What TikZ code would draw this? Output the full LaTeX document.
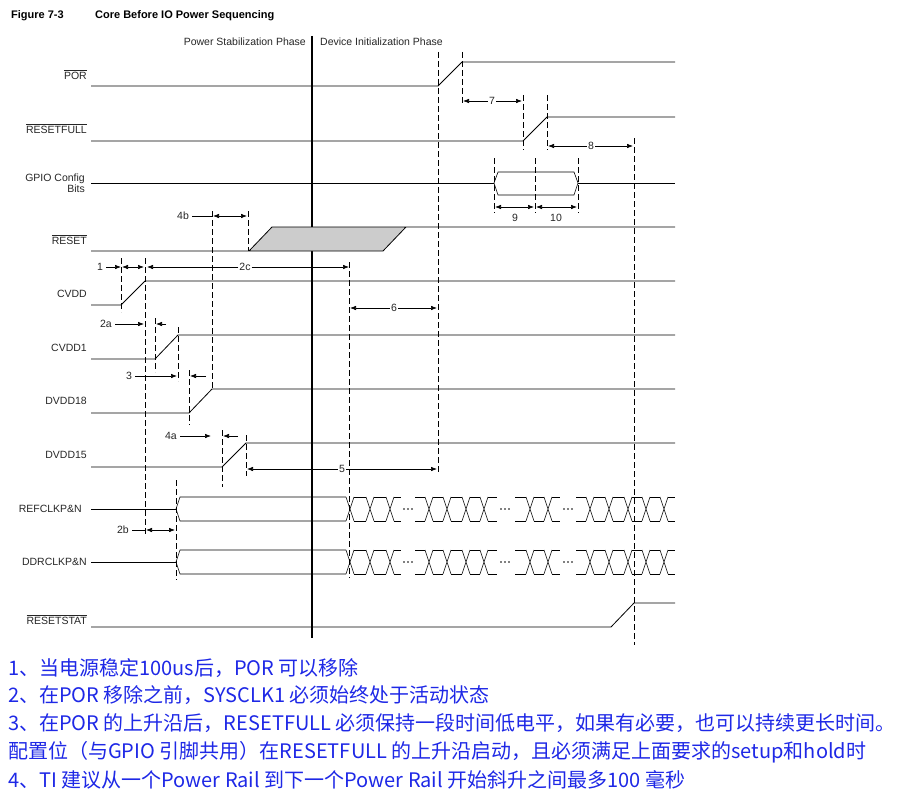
\documentclass[tikz,border=0pt]{standalone}
\usepackage{fontspec}
\setmainfont{Liberation Sans}
\newfontfamily\cjk{Noto Sans CJK SC}
\usetikzlibrary{arrows.meta}
\definecolor{noteblue}{RGB}{30,40,230}
\newcommand{\ovl}[1]{\leavevmode\vbox{\hrule height 0.6pt\kern1.2pt\hbox{#1}}}
\tikzset{
 sig/.style={line width=0.8pt},
 dsh/.style={line width=0.6pt,dash pattern=on 6pt off 3pt},
 arr/.style={line width=0.6pt,-{Latex[length=6pt,width=4.5pt]}},
 darr/.style={line width=0.6pt,{Latex[length=6pt,width=4.5pt]}-{Latex[length=6pt,width=4.5pt]}},
 lab/.style={font=\fontsize{10.5}{11}\selectfont,text=black!85},
 nm/.style={lab,anchor=east,inner sep=0pt},
 note/.style={font=\cjk\fontsize{20}{21}\selectfont,text=noteblue,anchor=west,inner sep=0pt},
}
\newcommand{\xcross}[2]{\draw[line width=0.6pt] (#1-4,#2-12)--(#1+4,#2+12) (#1-4,#2+12)--(#1+4,#2-12);}
\newcommand{\busgroup}[4]{%
 \draw[line width=0.6pt] (#1,#3-12)--(#2,#3-12) (#1,#3+12)--(#2,#3+12);
 \foreach \c in {#4} {\fill[white] (\c-4,#3-13) rectangle (\c+4,#3+13); \xcross{\c}{#3}}
}
\newcommand{\busrow}[1]{%
 \draw[line width=0.8pt] (91,#1)--(176,#1);
 \draw[line width=0.6pt] (176,#1)--(180,#1-12)--(346,#1-12) (176,#1)--(180,#1+12)--(346,#1+12);
 \busgroup{346}{401}{#1}{350,370,390}
 \busgroup{415}{497}{#1}{429,447,466,484}
 \busgroup{515}{560}{#1}{530,548}
 \busgroup{576}{675}{#1}{590,609,628,646,664}
 \foreach \d in {404,408,412,501,505,509,564,568,572} \fill (\d,#1) circle (0.9);
}
\begin{document}
\begin{tikzpicture}[x=1pt,y=-1pt]
\useasboundingbox (0,0) rectangle (908,800);
\node[anchor=west,inner sep=0pt,font=\bfseries\fontsize{11}{12}\selectfont] (fig) at (11,16) {Figure 7-3};
\node[anchor=west,inner sep=0pt,font=\bfseries\fontsize{11}{12}\selectfont] (ttl) at (95,16) {Core Before IO Power Sequencing};
\node[lab,anchor=east,inner sep=0pt] (ps) at (306,42) {Power Stabilization Phase};
\node[lab,anchor=west,inner sep=0pt] (dp) at (320,42) {Device Initialization Phase};
\draw[line width=1.6pt] (312,36)--(312,638);
\node[nm] (n1) at (87,75) {\ovl{POR}};
\node[nm] (n2) at (87,129) {\ovl{RESETFULL}};
\node[nm,align=right] (n3) at (85,183) {GPIO Config\\Bits};
\node[nm] (n4) at (87,240) {\ovl{RESET}};
\node[nm] (n5) at (87,294) {CVDD};
\node[nm] (n6) at (87,348) {CVDD1};
\node[nm] (n7) at (87,401) {DVDD18};
\node[nm] (n8) at (87,455) {DVDD15};
\node[nm] (n9) at (82,509) {REFCLKP\&N};
\node[nm] (n10) at (87,562) {DDRCLKP\&N};
\node[nm] (n11) at (87,620) {\ovl{RESETSTAT}};
\draw[sig] (91,86)--(438,86)--(462,62)--(675,62);
\draw[sig] (91,141)--(523,141)--(547,117)--(675,117);
\draw[sig] (91,183)--(494,183) (578,183)--(675,183);
\draw[line width=0.6pt] (494,183)--(498,172)--(574,172)--(578,183)--(574,195)--(498,195)--cycle;
\fill[gray!40] (249,251)--(272,227)--(406,227)--(383,251)--cycle;
\draw[sig] (91,251)--(383,251)--(406,227) (249,251)--(272,227)--(675,227);
\draw[sig] (91,305)--(121,305)--(145,281)--(675,281);
\draw[sig] (91,359)--(155,359)--(178,335)--(675,335);
\draw[sig] (91,413)--(189,413)--(212,389)--(675,389);
\draw[sig] (91,467)--(222,467)--(246,443)--(675,443);
\busrow{509}
\busrow{562}
\draw[sig] (91,627)--(611,627)--(634,603)--(675,603);
\foreach \x/\a/\b in {121/258/312,145/258/535,155/318/372,178/327/381,189/370/425,212/211/390,222/430/487,246/435/476,248/211/251,176/480/580,349/262/578,438/52/472,462/52/105,523/95/150,547/95/150,494/158/213,535/158/213,578/158/213,634/138/645}
 \draw[dsh] (\x,\a)--(\x,\b);
\node[lab] (t1) at (100,267) {1};
\draw[arr] (106,267)--(121,267);
\draw[darr] (122,267)--(144,267);
\node[lab,fill=white,inner sep=1pt] (t2c) at (245,267) {2c};
\draw[arr] (t2c.west)--(147,267);
\draw[arr] (t2c.east)--(349,267);
\node[lab] (t4b) at (183,216) {4b};
\draw[line width=0.6pt] (t4b.east)--(212,216);
\draw[darr] (213,216)--(247,216);
\node[lab] (t2a) at (106,324) {2a};
\draw[arr] (t2a.east)--(144,324);
\draw[arr] (166,324)--(156,324);
\node[lab] (t3) at (129,376) {3};
\draw[arr] (t3.east)--(177,376);
\draw[arr] (206,376)--(190,376);
\node[lab] (t4a) at (171,436) {4a};
\draw[arr] (t4a.east)--(211,436);
\draw[arr] (238,436)--(223,436);
\node[lab] (t2b) at (123,530) {2b};
\draw[line width=0.6pt] (t2b.east)--(146,530);
\draw[darr] (146,530)--(175,530);
\node[lab,fill=white,inner sep=1pt] (t6) at (394,308) {6};
\draw[arr] (t6.west)--(350,308);
\draw[arr] (t6.east)--(437,308);
\node[lab,fill=white,inner sep=1pt] (t5) at (342,469) {5};
\draw[arr] (t5.west)--(247,469);
\draw[arr] (t5.east)--(437,469);
\node[lab,fill=white,inner sep=1pt] (t7) at (492,101) {7};
\draw[arr] (t7.west)--(463,101);
\draw[arr] (t7.east)--(522,101);
\node[lab,fill=white,inner sep=1pt] (t8) at (591,146) {8};
\draw[arr] (t8.west)--(548,146);
\draw[arr] (t8.east)--(633,146);
\draw[darr] (495,207)--(534,207);
\draw[darr] (536,207)--(577,207);
\node[lab] (t9) at (515,218) {9};
\node[lab] (t10) at (556,218) {10};
\node[note] (l1) at (8,668) {1、当电源稳定100us后，POR 可以移除};
\node[note] (l2) at (8,695) {2、在POR 移除之前，SYSCLK1 必须始终处于活动状态};
\node[note] (l3) at (8,723) {3、在POR 的上升沿后，RESETFULL 必须保持一段时间低电平，如果有必要，也可以持续更长时间。};
\node[note] (l4) at (8,752) {配置位（与GPIO 引脚共用）在RESETFULL 的上升沿启动，且必须满足上面要求的setup和hold时};
\node[note] (l5) at (8,780) {4、TI 建议从一个Power Rail 到下一个Power Rail 开始斜升之间最多100 毫秒};
\end{tikzpicture}
\end{document}
